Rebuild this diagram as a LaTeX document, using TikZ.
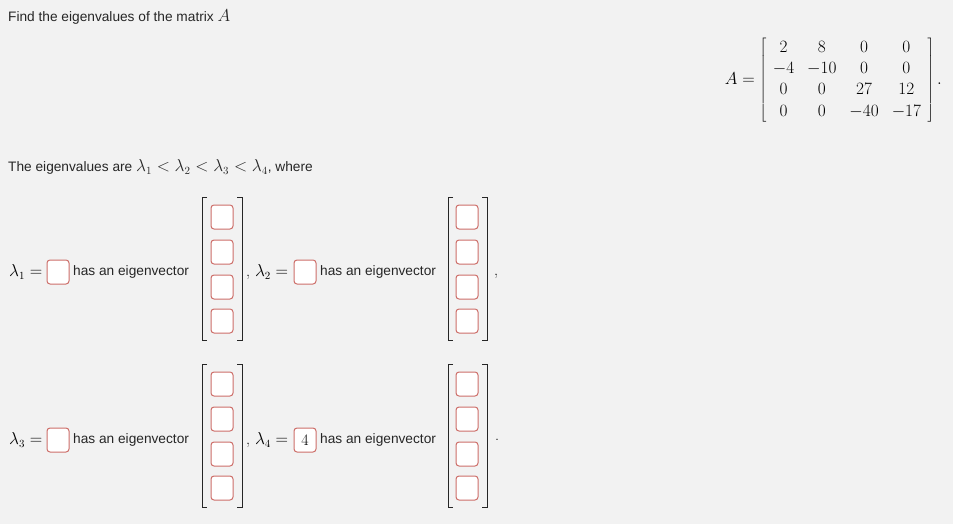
\documentclass[tikz,border=0pt]{standalone}
\usepackage{fontspec}
\setsansfont{Liberation Sans}
\definecolor{boxred}{RGB}{205,110,105}
\begin{document}
\begin{tikzpicture}[x=1pt,y=-1pt,
  txt/.style={font=\sffamily\fontsize{13.7}{16}\selectfont,inner sep=0pt,anchor=west,text=black!85},
  mth/.style={font=\fontsize{16}{18}\selectfont,inner sep=0pt},
  ibox/.style={draw=boxred,line width=1pt,fill=white,rounded corners=3pt,minimum width=22pt,minimum height=24pt,inner sep=0pt,font=\fontsize{16}{18}\selectfont},
  brk/.style={line width=0.9pt,black!85}]
\fill[black!5] (0,0) rectangle (953,524);
\useasboundingbox (0,0) rectangle (953,524);
\node[txt] (title) at (8,17) {Find the eigenvalues of the matrix {\fontsize{16}{18}\selectfont$A$}};
\node[mth,anchor=east] (A) at (942,80) {\renewcommand{\arraystretch}{1.18}\setlength{\arraycolsep}{6.5pt}$A=\left[\begin{array}{cccc}2&8&0&0\\-4&-10&0&0\\0&0&27&12\\0&0&-40&-17\end{array}\right].$};
\node[txt] (intro) at (8,167) {The eigenvalues are {\fontsize{16}{18}\selectfont$\lambda_1<\lambda_2<\lambda_3<\lambda_4$}, where};
% row 1
\node[mth,anchor=west] (l1) at (9,272) {$\lambda_1=$};
\node[ibox] (b1) at (58,272) {};
\node[txt] (h1) at (73,272) {has an eigenvector};
\foreach \i/\y in {1/217,2/252,3/287,4/321}{\node[ibox] (v1\i) at (222,\y) {};}
\draw[brk] (207,197) -- (202,197) -- (202,340) -- (207,340);
\draw[brk] (237,197) -- (242,197) -- (242,340) -- (237,340);
\node[mth,anchor=west] (l2) at (246,272) {, $\lambda_2=$};
\node[ibox] (b2) at (305,272) {};
\node[txt] (h2) at (320,272) {has an eigenvector};
\foreach \i/\y in {1/217,2/252,3/287,4/321}{\node[ibox] (v2\i) at (467,\y) {};}
\draw[brk] (453,197) -- (448,197) -- (448,340) -- (453,340);
\draw[brk] (482,197) -- (487,197) -- (487,340) -- (482,340);
\node[mth,anchor=west] (c2) at (494,276) {,};
% row 2
\node[mth,anchor=west] (l3) at (9,440) {$\lambda_3=$};
\node[ibox] (b3) at (58,440) {};
\node[txt] (h3) at (73,440) {has an eigenvector};
\foreach \i/\y in {1/384,2/419,3/454,4/488}{\node[ibox] (v3\i) at (222,\y) {};}
\draw[brk] (207,364) -- (202,364) -- (202,507) -- (207,507);
\draw[brk] (237,364) -- (242,364) -- (242,507) -- (237,507);
\node[mth,anchor=west] (l4) at (246,440) {, $\lambda_4=$};
\node[ibox] (b4) at (305,440) {4};
\node[txt] (h4) at (320,440) {has an eigenvector};
\foreach \i/\y in {1/384,2/419,3/454,4/488}{\node[ibox] (v4\i) at (467,\y) {};}
\draw[brk] (453,364) -- (448,364) -- (448,507) -- (453,507);
\draw[brk] (482,364) -- (487,364) -- (487,507) -- (482,507);
\node[mth,anchor=west] (p4) at (495,440) {.};
\end{tikzpicture}
\end{document}
